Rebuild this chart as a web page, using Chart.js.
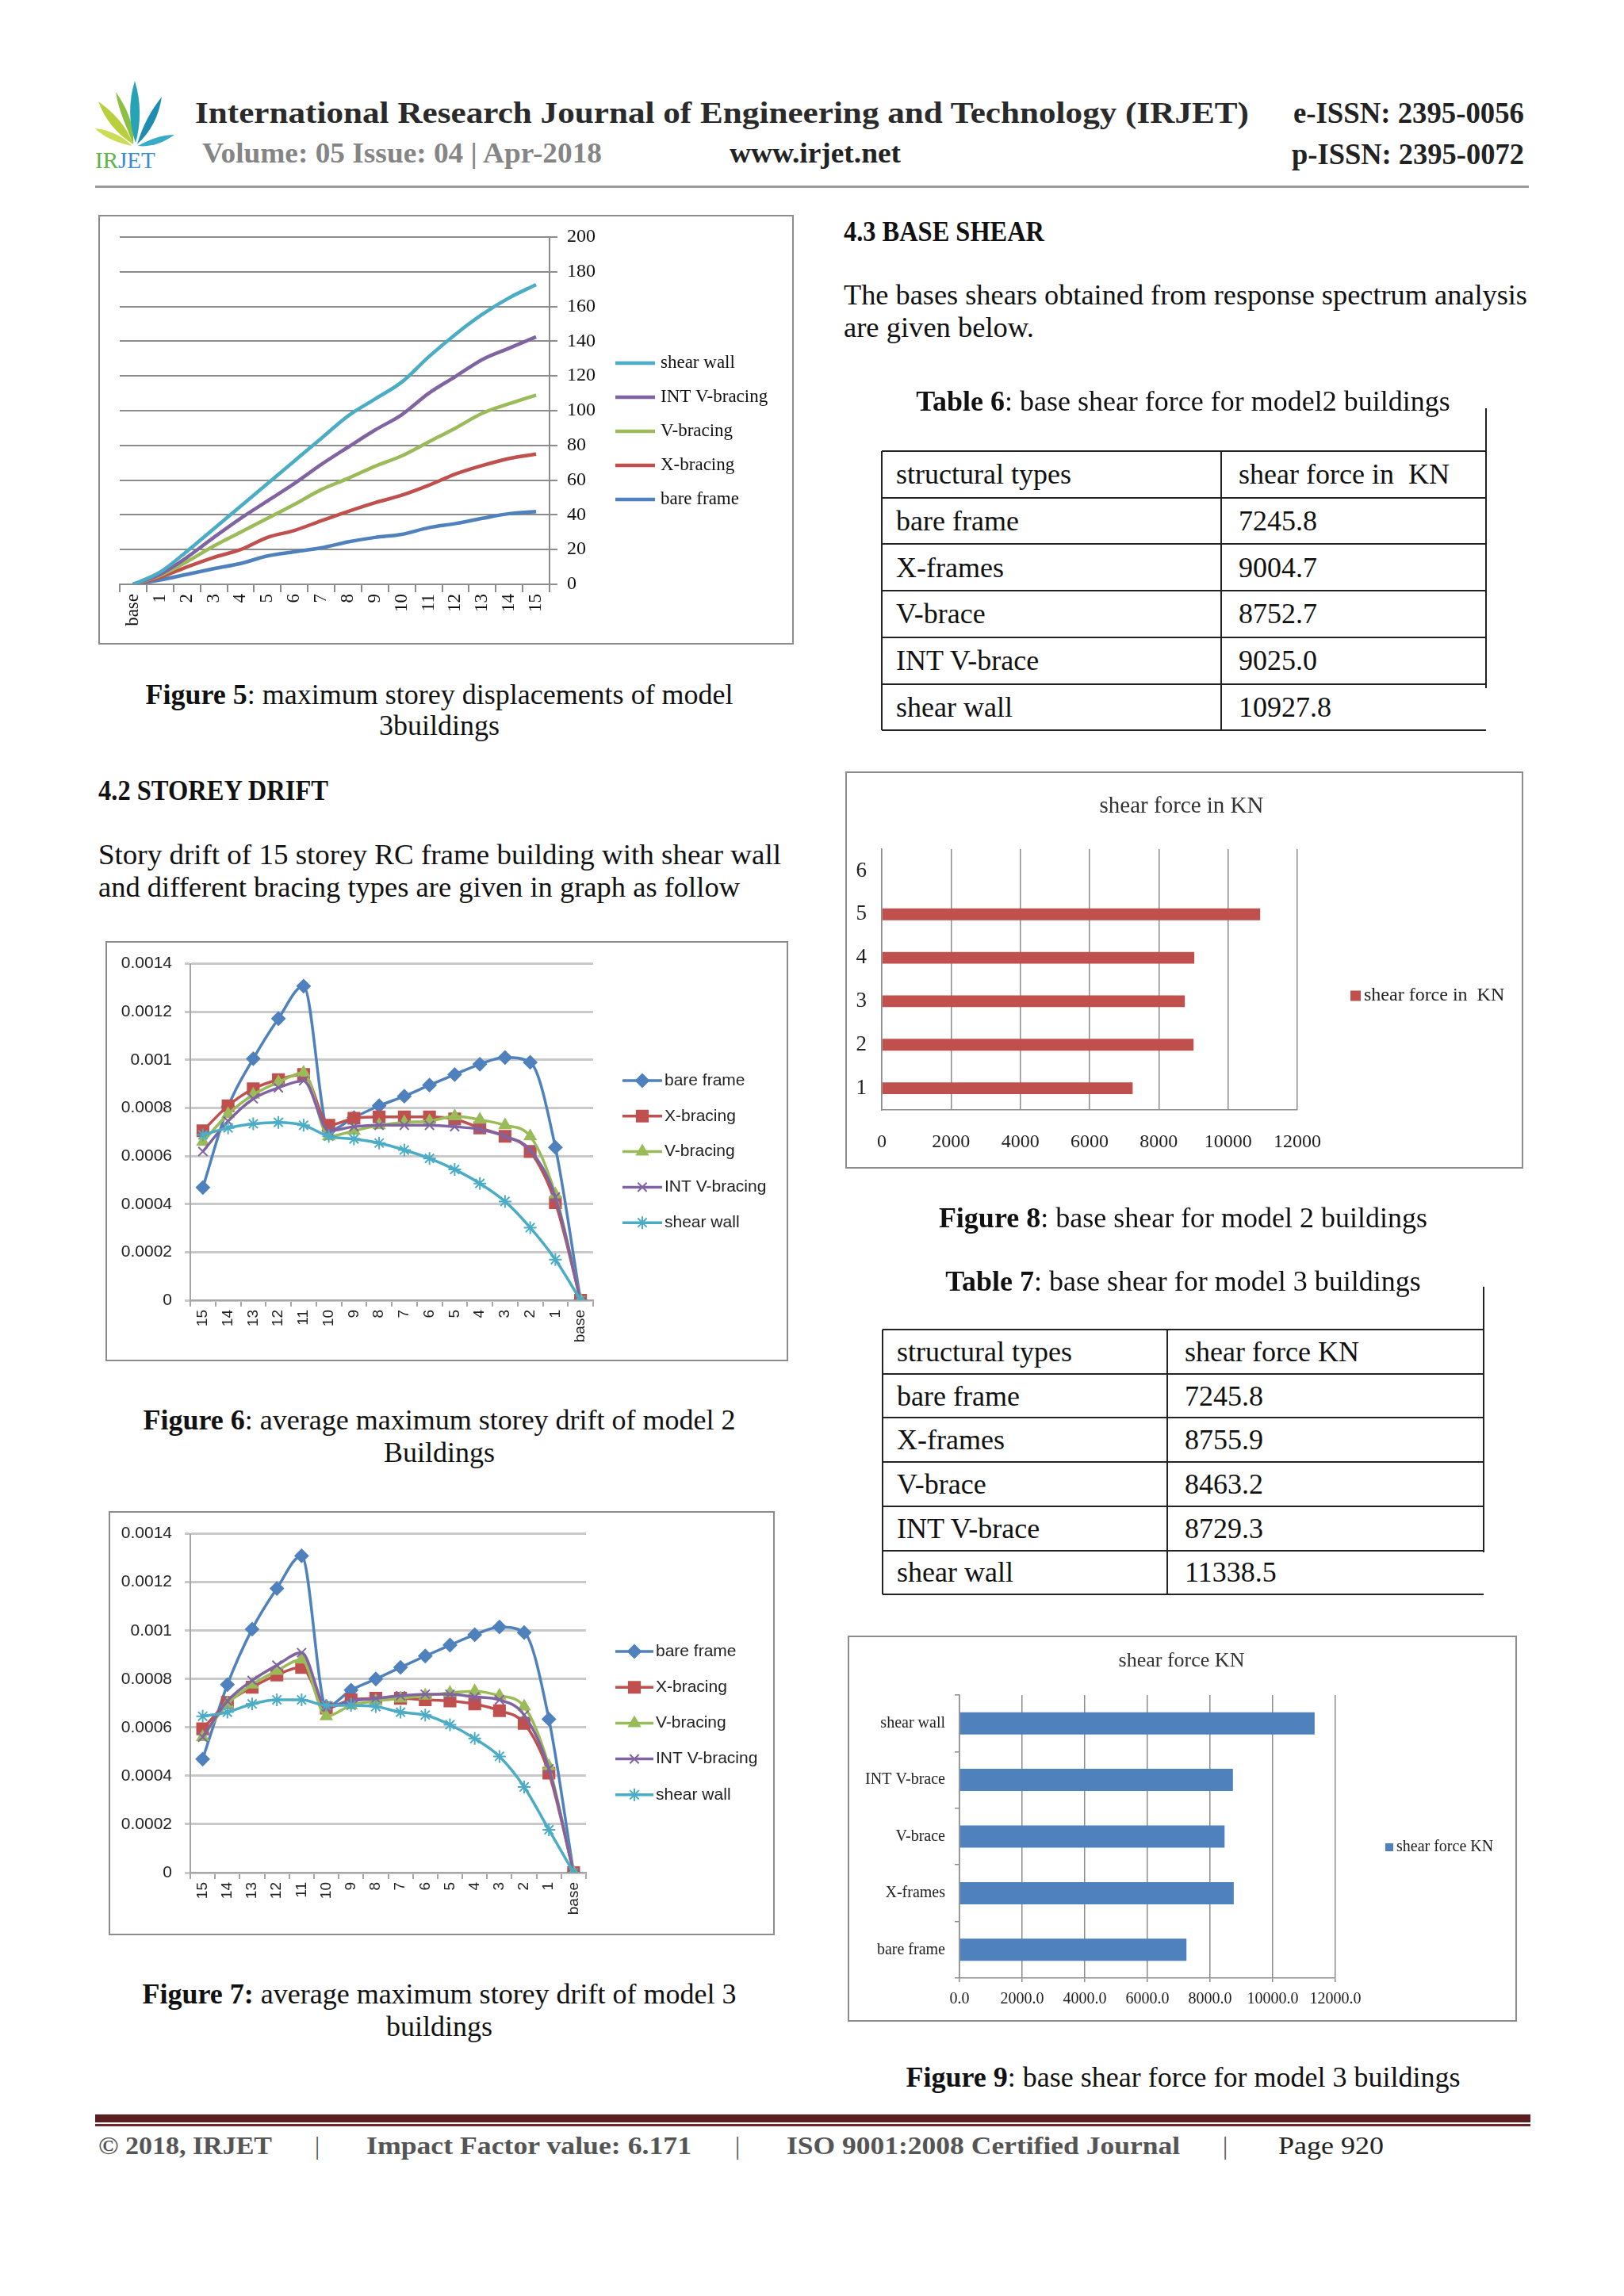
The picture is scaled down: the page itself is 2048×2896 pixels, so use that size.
<!DOCTYPE html>
<html>
<head>
<meta charset="utf-8">
<title>IRJET page 920</title>
<script src="https://cdn.jsdelivr.net/npm/chart.js@4.4.1/dist/chart.umd.min.js"></script>
<style>
  body { margin: 0; background: #fff; }
  #page { position: relative; width: 2048px; height: 2896px; background: #fff; overflow: hidden;
          font-family: "Liberation Serif", serif; color: #111; }
  .t { position: absolute; white-space: nowrap; font-size: 36px; line-height: 41px; }
  .ctr { width: 1000px; text-align: center; }
  .hd { position: absolute; white-space: nowrap; font-weight: bold; font-size: 38px; line-height: 44px; color: #2a2a2a; }
  .ft { position: absolute; white-space: nowrap; font-weight: bold; font-size: 31px; line-height: 40px; color: #555; }
  .frame { position: absolute; border: 2px solid #8c8c8c; box-sizing: border-box; pointer-events: none; }
  .ln { position: absolute; background: #222; }
  canvas { position: absolute; }
</style>
</head>
<body>
<div id="page">

  <!-- header -->
  <svg style="position:absolute;left:116px;top:98px" width="110" height="120" viewBox="0 0 110 120">
    <path d="M52 84 C30 70 16 52 8 30 C28 44 44 62 52 84Z" fill="#b9cf3c"/>
    <path d="M50 86 C32 82 16 76 4 64 C22 66 40 74 50 86Z" fill="#cddc55"/>
    <path d="M52 84 C44 62 34 44 30 18 C44 38 54 60 52 84Z" fill="#8cc043"/>
    <path d="M55 82 C46 58 46 30 54 4 C62 30 62 58 55 82Z" fill="#28a3b6"/>
    <path d="M57 84 C64 60 74 42 88 24 C84 50 74 68 57 84Z" fill="#1f8db0"/>
    <path d="M58 86 C72 78 88 72 104 72 C90 82 74 88 58 86Z" fill="#38abc8"/>
    <text x="4" y="114" font-family="Liberation Serif" font-size="29" fill="#3b8bd0"><tspan fill="#5db548">IR</tspan>JET</text>
  </svg>
  <div class="hd" data-w="1329" style="left:246px;top:120px;">International Research Journal of Engineering and Technology (IRJET)</div>
  <div class="hd" data-w="291" style="left:1631px;top:120px;color:#222;">e-ISSN: 2395-0056</div>
  <div class="hd" data-w="504" style="left:255px;top:172px;color:#858585;font-size:35px;">Volume: 05 Issue: 04 | Apr-2018</div>
  <div class="hd" data-w="216" style="left:920px;top:172px;color:#222;font-size:35px;">www.irjet.net</div>
  <div class="hd" data-w="293" style="left:1629px;top:172px;color:#222;">p-ISSN: 2395-0072</div>
  <div style="position:absolute;left:120px;top:234px;width:1808px;height:3px;background:#9a9a9a;"></div>

  <!-- left column -->
  <canvas id="fig5" width="877" height="542" style="left:124px;top:271px;"></canvas>
  <div class="frame" style="left:124px;top:271px;width:877px;height:542px;"></div>
  <div class="t ctr" style="left:54px;top:857px;line-height:39px;"><b>Figure 5</b>: maximum storey displacements of model<br>3buildings</div>

  <div class="t" data-w="290" style="left:124px;top:977px;font-weight:bold;">4.2 STOREY DRIFT</div>
  <div class="t" data-w="861" style="left:124px;top:1058px;">Story drift of 15 storey RC frame building with shear wall</div>
  <div class="t" data-w="809" style="left:124px;top:1099px;">and different bracing types are given in graph as follow</div>

  <canvas id="fig6" width="861" height="530" style="left:133px;top:1187px;"></canvas>
  <div class="frame" style="left:133px;top:1187px;width:861px;height:530px;"></div>
  <div class="t ctr" style="left:54px;top:1771px;"><b>Figure 6</b>: average maximum storey drift of model 2<br>Buildings</div>

  <canvas id="fig7" width="840" height="535" style="left:137px;top:1906px;"></canvas>
  <div class="frame" style="left:137px;top:1906px;width:840px;height:535px;"></div>
  <div class="t ctr" style="left:54px;top:2495px;"><b>Figure 7:</b> average maximum storey drift of model 3<br>buildings</div>

  <!-- right column -->
  <div class="t" data-w="253" style="left:1064px;top:272px;font-weight:bold;">4.3 BASE SHEAR</div>
  <div class="t" data-w="862" style="left:1064px;top:352px;">The bases shears obtained from response spectrum analysis</div>
  <div class="t" data-w="240" style="left:1064px;top:393px;">are given below.</div>
  <div class="t ctr" style="left:992px;top:486px;"><b>Table 6</b>: base shear force for model2 buildings</div>
  <div id="table6"></div>

  <canvas id="fig8" width="855" height="501" style="left:1066px;top:973px;"></canvas>
  <div class="frame" style="left:1066px;top:973px;width:855px;height:501px;"></div>
  <div class="t ctr" style="left:992px;top:1516px;"><b>Figure 8</b>: base shear for model 2 buildings</div>

  <div class="t ctr" style="left:992px;top:1596px;"><b>Table 7</b>: base shear for model 3 buildings</div>
  <div id="table7"></div>

  <canvas id="fig9" width="844" height="487" style="left:1069px;top:2063px;"></canvas>
  <div class="frame" style="left:1069px;top:2063px;width:844px;height:487px;"></div>
  <div class="t ctr" style="left:992px;top:2600px;"><b>Figure 9</b>: base shear force for model 3 buildings</div>

  <!-- footer -->
  <div style="position:absolute;left:120px;top:2667px;width:1810px;height:10px;background:#5c1f1f;"></div>
  <div style="position:absolute;left:120px;top:2679px;width:1810px;height:3px;background:#6e2626;"></div>
  <div class="ft" data-w="219" style="left:124px;top:2687px;">© 2018, IRJET</div>
  <div class="ft" style="left:397px;top:2687px;font-weight:normal;">|</div>
  <div class="ft" data-w="410" style="left:462px;top:2687px;">Impact Factor value: 6.171</div>
  <div class="ft" style="left:927px;top:2687px;font-weight:normal;">|</div>
  <div class="ft" data-w="496" style="left:992px;top:2687px;">ISO 9001:2008 Certified Journal</div>
  <div class="ft" style="left:1542px;top:2687px;font-weight:normal;">|</div>
  <div class="ft" data-w="133" style="left:1612px;top:2687px;color:#222;font-weight:normal;">Page 920</div>
</div>

<script>
// ---- Figure 5: maximum storey displacement (model 3) ----
var storeys = ['base', '1', '2', '3', '4', '5', '6', '7', '8', '9', '10', '11', '12', '13', '14', '15'];
var dispBareFrame   = [0, 2.5, 5.7, 9, 12, 16.3, 18.7, 21, 24.4, 27, 28.8, 32.6, 35, 38, 40.7, 41.9];
var dispXBracing    = [0, 4, 10, 15.5, 20, 27, 31, 36.6, 42, 47, 51.3, 57, 63.5, 68.4, 72.5, 75];
var dispVBracing    = [0, 5, 13, 22, 30, 38, 46, 54.5, 61, 68, 74, 82, 90, 98.5, 104, 109];
var dispIntVBracing = [0, 5.7, 15.5, 27, 38, 48, 58, 69, 79, 88.8, 97.7, 110, 119.7, 129.5, 136, 142.5];
var dispShearWall   = [0, 7, 19, 32, 45, 58, 71, 84, 97, 106.7, 116.5, 131, 144, 155.5, 165, 172.6];

// ---- Figures 6 and 7: average maximum storey drift ----
var driftStoreys = ['15', '14', '13', '12', '11', '10', '9', '8', '7', '6', '5', '4', '3', '2', '1', 'base'];

var drift2BareFrame   = [0.000469, 0.000805, 0.001005, 0.001172, 0.001307, 0.000705, 0.00076, 0.000809, 0.000849, 0.000895, 0.000939, 0.000982, 0.00101, 0.00099, 0.000636, 0];
var drift2XBracing    = [0.000705, 0.000809, 0.00088, 0.000918, 0.000939, 0.000728, 0.000757, 0.000763, 0.000763, 0.000763, 0.000754, 0.000717, 0.000682, 0.000619, 0.000406, 0];
var drift2VBracing    = [0.000659, 0.000774, 0.000855, 0.000907, 0.000947, 0.000682, 0.000705, 0.000728, 0.00074, 0.000745, 0.000765, 0.000751, 0.000728, 0.000682, 0.00044, 0];
var drift2IntVBracing = [0.000619, 0.000745, 0.000838, 0.000884, 0.000913, 0.000705, 0.000722, 0.000728, 0.000728, 0.000728, 0.000722, 0.000711, 0.000682, 0.000625, 0.000429, 0];
var drift2ShearWall   = [0.000688, 0.000717, 0.000734, 0.00074, 0.000728, 0.000682, 0.000671, 0.000654, 0.000625, 0.00059, 0.000544, 0.000486, 0.000411, 0.000302, 0.000169, 0];

var drift3BareFrame   = [0.000469, 0.000777, 0.001006, 0.001174, 0.001309, 0.000686, 0.000754, 0.0008, 0.000848, 0.000895, 0.00094, 0.000983, 0.001015, 0.000992, 0.000634, 0];
var drift3XBracing    = [0.000594, 0.000703, 0.000766, 0.000817, 0.000848, 0.00068, 0.000714, 0.00072, 0.00072, 0.000714, 0.000709, 0.000697, 0.000669, 0.000617, 0.000411, 0];
var drift3VBracing    = [0.00056, 0.000697, 0.000777, 0.000834, 0.00088, 0.000646, 0.000691, 0.000709, 0.00072, 0.000731, 0.000743, 0.000749, 0.000731, 0.000686, 0.00044, 0];
var drift3IntVBracing = [0.00056, 0.000709, 0.000794, 0.000857, 0.000909, 0.000686, 0.000709, 0.00072, 0.000731, 0.000737, 0.000737, 0.000726, 0.000714, 0.000651, 0.000429, 0];
var drift3ShearWall   = [0.000646, 0.000663, 0.000697, 0.000714, 0.000714, 0.000691, 0.000691, 0.000686, 0.000663, 0.000651, 0.000611, 0.000554, 0.00048, 0.000354, 0.000177, 0];

// ---- Figures 8 and 9, Tables 6 and 7: base shear ----
var structuralTypes = ['bare frame', 'X-frames', 'V-brace', 'INT V-brace', 'shear wall'];
var model2Labels = ['1', '2', '3', '4', '5', '6'];
var model2Shear = [7245.8, 9004.7, 8752.7, 9025.0, 10927.8, null];
var model3Shear = [7245.8, 8755.9, 8463.2, 8729.3, 11338.5];

var cBlue = '#4F81BD', cRed = '#C0504D', cGreen = '#9BBB59', cPurple = '#8064A2', cAqua = '#4BACC6';
var serif = '"Liberation Serif", "Times New Roman", serif';
var sans = '"Liberation Sans", Arial, sans-serif';

// squeeze header/footer/body lines to the widths of the printed page
function fitWidths() {
    document.querySelectorAll('[data-w]').forEach(function (el) {
        el.style.transform = '';
        var w = el.getBoundingClientRect().width;
        el.style.transformOrigin = '0 0';
        el.style.transform = 'scaleX(' + (+el.getAttribute('data-w') / w) + ')';
    });
}
fitWidths();
if (document.fonts && document.fonts.ready) document.fonts.ready.then(fitWidths);

// legend and title drawn beside the plot, Excel style
var sideLegend = {
    id: 'sideLegend',
    afterDraw: function (chart, args, o) {
        if (!o || !o.items) return;
        var ctx = chart.ctx;
        ctx.save();
        ctx.textBaseline = 'middle';
        if (o.title) {
            ctx.font = o.titleFont;
            ctx.fillStyle = '#333';
            ctx.textAlign = 'center';
            ctx.fillText(o.title, o.titleX, o.titleY);
            ctx.textAlign = 'left';
        }
        ctx.font = o.font;
        o.items.forEach(function (idx, i) {
            var ds = chart.data.datasets[idx];
            var y = o.y + i * (o.step || 0);
            if (o.box) {
                ctx.fillStyle = ds.backgroundColor;
                ctx.fillRect(o.x, y - o.box / 2, o.box, o.box);
            } else {
                ctx.strokeStyle = ds.borderColor;
                ctx.lineWidth = o.lineWidth;
                ctx.beginPath();
                ctx.moveTo(o.x, y);
                ctx.lineTo(o.x + o.len, y);
                ctx.stroke();
                if (ds.pointRadius > 0 && Chart.helpers && Chart.helpers.drawPoint) {
                    ctx.fillStyle = ds.pointBackgroundColor;
                    ctx.strokeStyle = ds.pointBorderColor;
                    ctx.lineWidth = ds.pointBorderWidth;
                    Chart.helpers.drawPoint(ctx, {
                        pointStyle: ds.pointStyle, radius: ds.pointRadius,
                        borderWidth: ds.pointBorderWidth, rotation: 0
                    }, o.x + o.len / 2, y);
                }
            }
            ctx.fillStyle = o.color || '#111';
            ctx.fillText(ds.label, o.textX, y);
        });
        ctx.restore();
    }
};

function fixWidth(w) { return function (s) { s.width = w; }; }
function fixHeight(h) { return function (s) { s.height = h; }; }

// tables
function buildTable(id, left, top, divider, right, rowH, header, values, rightTop, rightBottom) {
    var host = document.getElementById(id);
    var rows = [header].concat(structuralTypes.map(function (t, i) { return [t, values[i]]; }));
    var html = '';
    var bottom = top + rowH * rows.length;
    rows.forEach(function (r, i) {
        var y = top + rowH * i;
        html += '<div class="ln" style="left:' + left + 'px;top:' + (y - 1) + 'px;width:' + (right - left) + 'px;height:2px;"></div>';
        html += '<div class="t" style="left:' + (left + 18) + 'px;top:' + (y + rowH / 2 - 20) + 'px;">' + r[0] + '</div>';
        html += '<div class="t" style="left:' + (divider + 22) + 'px;top:' + (y + rowH / 2 - 20) + 'px;white-space:pre;">' + r[1] + '</div>';
    });
    html += '<div class="ln" style="left:' + left + 'px;top:' + (bottom - 1) + 'px;width:' + (right - left) + 'px;height:2px;"></div>';
    html += '<div class="ln" style="left:' + (left - 1) + 'px;top:' + top + 'px;width:2px;height:' + (bottom - top) + 'px;"></div>';
    html += '<div class="ln" style="left:' + (divider - 1) + 'px;top:' + top + 'px;width:2px;height:' + (bottom - top) + 'px;"></div>';
    html += '<div class="ln" style="left:' + (right - 1) + 'px;top:' + rightTop + 'px;width:2px;height:' + (rightBottom - rightTop) + 'px;"></div>';
    host.innerHTML = html;
}
buildTable('table6', 1112, 569, 1540, 1874, 58.7, ['structural types', 'shear force in  KN'],
    model2Shear.slice(0, 5).map(function (v) { return v.toFixed(1); }), 515, 868);
buildTable('table7', 1113, 1677, 1472, 1871, 55.7, ['structural types', 'shear force KN'],
    model3Shear.map(function (v) { return v.toFixed(1); }), 1623, 1958);

// Figure 5
new Chart(document.getElementById('fig5'), {
    type: 'line',
    data: {
        labels: storeys,
        datasets: [
            { label: 'bare frame', data: dispBareFrame, borderColor: cBlue, order: 5 },
            { label: 'X-bracing', data: dispXBracing, borderColor: cRed, order: 4 },
            { label: 'V-bracing', data: dispVBracing, borderColor: cGreen, order: 3 },
            { label: 'INT V-bracing', data: dispIntVBracing, borderColor: cPurple, order: 2 },
            { label: 'shear wall', data: dispShearWall, borderColor: cAqua, order: 1 }
        ]
    },
    options: {
        responsive: false, animation: false, devicePixelRatio: 1,
        layout: { padding: { left: 27, top: 28, right: 246, bottom: 0 } },
        elements: { point: { radius: 0 }, line: { borderWidth: 4.5, cubicInterpolationMode: 'monotone' } },
        plugins: {
            legend: { display: false }, tooltip: { enabled: false },
            sideLegend: { items: [4, 3, 2, 1, 0], x: 652, len: 50, textX: 709, y: 187, step: 43,
                          lineWidth: 4.5, font: '23px ' + serif, color: '#111' }
        },
        scales: {
            x: {
                offset: true,
                grid: { offset: true, drawOnChartArea: false, tickLength: 10, color: '#8c8c8c', lineWidth: 2 },
                border: { color: '#8c8c8c', width: 2 },
                ticks: { minRotation: 90, maxRotation: 90, autoSkip: false, padding: 2, color: '#111',
                         font: { family: serif, size: 23 } },
                afterFit: fixHeight(76)
            },
            y: {
                position: 'right', min: 0, max: 200,
                grid: { color: '#8c8c8c', lineWidth: 2, tickLength: 10 },
                border: { color: '#8c8c8c', width: 2 },
                ticks: { stepSize: 20, padding: 12, color: '#111', font: { family: serif, size: 24 } },
                afterFit: fixWidth(62)
            }
        }
    },
    plugins: [sideLegend]
});

// Figures 6 and 7
function driftSet(label, data, color, style, radius, order) {
    return {
        label: label, data: data, borderColor: color, backgroundColor: color,
        pointStyle: style, pointRadius: radius, pointHoverRadius: radius,
        pointBackgroundColor: color, pointBorderColor: color, pointBorderWidth: 2,
        borderWidth: 3.5, cubicInterpolationMode: 'monotone', order: order
    };
}
function driftChart(id, sets, yWidth, xHeight, padRight, legend) {
    new Chart(document.getElementById(id), {
        type: 'line',
        data: {
            labels: driftStoreys,
            datasets: [
                driftSet('bare frame', sets[0], cBlue, 'rectRot', 8, 5),
                driftSet('X-bracing', sets[1], cRed, 'rect', 10, 4),
                driftSet('V-bracing', sets[2], cGreen, 'triangle', 8, 3),
                driftSet('INT V-bracing', sets[3], cPurple, 'crossRot', 8, 2),
                driftSet('shear wall', sets[4], cAqua, 'star', 8, 1)
            ]
        },
        options: {
            responsive: false, animation: false, devicePixelRatio: 1,
            layout: { padding: { left: 0, top: 26, right: padRight, bottom: 0 } },
            plugins: {
                legend: { display: false }, tooltip: { enabled: false },
                sideLegend: legend
            },
            scales: {
                x: {
                    offset: true,
                    grid: { offset: true, drawOnChartArea: false, tickLength: 8, color: '#a6a6a6', lineWidth: 2 },
                    border: { color: '#a6a6a6', width: 2 },
                    ticks: { minRotation: 90, maxRotation: 90, autoSkip: false, padding: 4, color: '#222',
                             font: { family: sans, size: 19 } },
                    afterFit: fixHeight(xHeight)
                },
                y: {
                    min: 0, max: 0.0014,
                    grid: { color: '#c9c9c9', lineWidth: 3, tickLength: 7 },
                    border: { color: '#a6a6a6', width: 2 },
                    ticks: {
                        stepSize: 0.0002, padding: 16, color: '#222', font: { family: sans, size: 21 },
                        callback: function (v) { return String(parseFloat(v.toFixed(4))); }
                    },
                    afterFit: fixWidth(yWidth)
                }
            }
        },
        plugins: [sideLegend]
    });
}
driftChart('fig6', [drift2BareFrame, drift2XBracing, drift2VBracing, drift2IntVBracing, drift2ShearWall],
    107, 77, 246,
    { items: [0, 1, 2, 3, 4], x: 652, len: 50, textX: 705, y: 176, step: 44.8, lineWidth: 3.5,
      font: '21px ' + sans, color: '#222' });
driftChart('fig7', [drift3BareFrame, drift3XBracing, drift3VBracing, drift3IntVBracing, drift3ShearWall],
    103, 79, 238,
    { items: [0, 1, 2, 3, 4], x: 639, len: 48, textX: 690, y: 177, step: 45.2, lineWidth: 3.5,
      font: '21px ' + sans, color: '#222' });

// Figure 8
new Chart(document.getElementById('fig8'), {
    type: 'bar',
    data: {
        labels: model2Labels,
        datasets: [{ label: 'shear force in  KN', data: model2Shear, backgroundColor: cRed,
                     categoryPercentage: 0.3, barPercentage: 0.9 }]
    },
    options: {
        indexAxis: 'y', responsive: false, animation: false, devicePixelRatio: 1,
        layout: { padding: { left: 0, top: 98, right: 285, bottom: 0 } },
        plugins: {
            legend: { display: false }, tooltip: { enabled: false },
            sideLegend: { items: [0], box: 13, x: 637, y: 283, textX: 654, font: '24px ' + serif, color: '#222',
                          title: 'shear force in KN', titleX: 424, titleY: 44, titleFont: '29px ' + serif }
        },
        scales: {
            x: {
                min: 0, max: 12000,
                grid: { color: '#8c8c8c', lineWidth: 1.5, drawTicks: false },
                border: { color: '#8c8c8c', width: 1.5 },
                ticks: { stepSize: 2000, padding: 26, color: '#222', font: { family: serif, size: 24 },
                         callback: function (v) { return String(v); } },
                afterFit: fixHeight(74)
            },
            y: {
                reverse: true,
                grid: { drawOnChartArea: false, drawTicks: false },
                border: { color: '#8c8c8c', width: 1.5 },
                ticks: { padding: 19, color: '#222', font: { family: serif, size: 27 } },
                afterFit: fixWidth(46)
            }
        }
    },
    plugins: [sideLegend]
});

// Figure 9
new Chart(document.getElementById('fig9'), {
    type: 'bar',
    data: {
        labels: structuralTypes,
        datasets: [{ label: 'shear force KN', data: model3Shear, backgroundColor: cBlue,
                     categoryPercentage: 0.8, barPercentage: 0.49 }]
    },
    options: {
        indexAxis: 'y', responsive: false, animation: false, devicePixelRatio: 1,
        layout: { padding: { left: 0, top: 75, right: 229, bottom: 0 } },
        plugins: {
            legend: { display: false }, tooltip: { enabled: false },
            sideLegend: { items: [0], box: 10, x: 678, y: 267, textX: 692, font: '20px ' + serif, color: '#222',
                          title: 'shear force KN', titleX: 421, titleY: 32, titleFont: '26px ' + serif }
        },
        scales: {
            x: {
                min: 0, max: 12000,
                grid: { color: '#8c8c8c', lineWidth: 1.5, tickLength: 5 },
                border: { color: '#8c8c8c', width: 1.5 },
                ticks: { stepSize: 2000, padding: 10, color: '#222', font: { family: serif, size: 20 },
                         callback: function (v) { return v.toFixed(1); } },
                afterFit: fixHeight(55)
            },
            y: {
                reverse: true,
                grid: { offset: true, drawOnChartArea: false, tickLength: 6, color: '#8c8c8c', lineWidth: 1.5 },
                border: { color: '#8c8c8c', width: 1.5 },
                ticks: { padding: 12, color: '#222', font: { family: serif, size: 20 } },
                afterFit: fixWidth(141)
            }
        }
    },
    plugins: [sideLegend]
});
</script>
</body>
</html>
